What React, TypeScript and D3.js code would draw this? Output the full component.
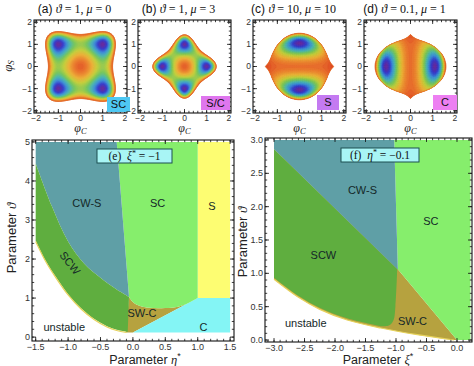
import React from "react";
import * as d3 from "d3";

type P = [number, number];

const SANS = "'Liberation Sans', Arial, sans-serif";
const SERIF = "'Liberation Serif', 'Times New Roman', serif";

// ---------------- top row (potential landscapes) ----------------
const topPanelIds = ["(a)", "(b)", "(c)", "(d)"];
const topTheta = ["1", "1", "10", "0.1"];
const topMu = ["0", "3", "10", "1"];
const topBadges = ["SC", "S/C", "S", "C"];
const topBadgeColors = ["#4ec8f3", "#df76ee", "#c47af1", "#ed7ff2"];
const topTicks = [-2, -1, 0, 1, 2];
const potentialCutoffs = [2.2, 2.2, 1.15, 1.15];
const potentials: ((x: number, y: number) => number)[] = [
  (x, y) => (x * x - 1) ** 2 + (y * y - 1) ** 2,
  (x, y) => {
    const u = x + y, v = x - y;
    return (u * u - 1) ** 2 + (v * v - 1) ** 2;
  },
  (x, y) => {
    const X = x / 1.05, Y = y / 1.05;
    return (Y * Y - 1) ** 2 + 1.0 * X * X * Y * Y + 0.026 * X ** 4;
  },
  (x, y) => {
    const X = x / 1.1, Y = y / 1.1;
    return (X * X - 1) ** 2 + 1.0 * X * X * Y * Y + 0.03 * Y ** 4;
  },
];
// outline of the stable domain for (c), (d): ellipse semi-axes, tip axis angle, tip size and sharpness
const domainShapes: ({ ax: number; by: number; axis: number; spike: number; spikeW: number } | null)[] = [
  null,
  null,
  { ax: 1.3, by: 1.5, axis: 0, spike: 0.25, spikeW: 0.15 },
  { ax: 1.6, by: 1.2, axis: Math.PI / 2, spike: 0.25, spikeW: 0.15 },
];
const heatStops = ["#6a2a9c", "#3a40cc", "#3f8fd8", "#4fb7b0", "#7cc75c", "#c4cf3e", "#ecb23a", "#ea7d2f", "#dc3b22"];

// ---------------- panel (e): xi* = -1 ----------------
const eXTicks = [-1.5, -1, -0.5, 0, 0.5, 1, 1.5];
const eYTicks = [0, 1, 2, 3, 4, 5];
const eUnstableCurve: P[] = [[-1.5, 2.45], [-1.35, 1.95], [-1.2, 1.55], [-1.0, 1.08], [-0.8, 0.72], [-0.6, 0.45], [-0.4, 0.26], [-0.25, 0.17], [-0.1, 0.12]];
const eScwUpper: P[] = [[-1.5, 4.45], [-1.25, 3.35], [-1.0, 2.45], [-0.75, 1.88], [-0.5, 1.52], [-0.25, 1.22], [-0.06, 1.03]];
const eScLower: P[] = [[-0.06, 1.03], [0.0, 0.9], [0.1, 0.8], [0.25, 0.75], [0.5, 0.745], [0.7, 0.78], [0.85, 0.868]];
const eCwsScEdge: P[] = [[-0.25, 5.0], [-0.06, 1.03]];
const eCDiagonal: P[] = [[1.0, 1.0], [0.0, 0.12]];
const eScSBoundary = 1.0;
const eThetaMin = 0.12, eThetaMax = 5.0, eEtaMin = -1.5, eEtaMax = 1.5;
const eLabels: { t: string; p: P; rot?: number }[] = [
  { t: "CW-S", p: [-0.71, 3.43] },
  { t: "SC", p: [0.38, 3.43] },
  { t: "S", p: [1.22, 3.36] },
  { t: "SCW", p: [-0.97, 1.9], rot: 52 },
  { t: "SW-C", p: [0.14, 0.61] },
  { t: "C", p: [1.09, 0.26] },
  { t: "unstable", p: [-1.06, 0.26] },
];

// ---------------- panel (f): eta* = -0.1 ----------------
const fXTicks = [-3, -2.5, -2, -1.5, -1, -0.5, 0];
const fYTicks = [0, 0.5, 1, 1.5, 2, 2.5, 3];
const fUnstableCurve: P[] = [[-3.0, 0.91], [-2.6, 0.64], [-2.25, 0.46], [-1.8, 0.3], [-1.25, 0.18], [-0.65, 0.08], [-0.05, 0.0]];
const fScwUpper: P[] = [[-3.0, 2.86], [-0.98, 1.06]];
const fCwsScEdge: P[] = [[-1.03, 3.0], [-0.97, 1.06]];
const fScEdge: P[] = [[-0.97, 1.06], [0.0, 0.0]];
const fScwRight: P[] = [[-0.98, 1.06], [-1.01, 0.5], [-1.04, 0.3], [-1.1, 0.225], [-1.2, 0.205]];
const fXiMin = -3.0, fXiRight = 0.22, fThetaMax = 3.0;
const fLabels: { t: string; p: P; rot?: number }[] = [
  { t: "CW-S", p: [-1.55, 2.25] },
  { t: "SC", p: [-0.43, 1.79] },
  { t: "SCW", p: [-2.19, 1.27] },
  { t: "SW-C", p: [-0.73, 0.29] },
  { t: "unstable", p: [-2.48, 0.25] },
];

const regionColors = { cws: "#5f9fa6", sc: "#86ee6c", scw: "#5fae3f", swc: "#b6a23f", s: "#fdfd72", c: "#84f5f5" };

// ---------------- layout ----------------
const topLefts = [34, 138, 253, 364];
const topTop = 20;
const topSize = 93;
const badgeBoxes = [[107, 97, 23, 15], [201, 96, 29, 14], [317, 95, 22, 15], [433, 95, 24, 15]];

const heat = d3
  .scaleLinear<string>()
  .domain(heatStops.map((_, i) => i / (heatStops.length - 1)))
  .range(heatStops)
  .interpolate(d3.interpolateRgb)
  .clamp(true);

function Frame(props: {
  xs: d3.ScaleLinear<number, number>;
  ys: d3.ScaleLinear<number, number>;
  xMajor: number[];
  xMinorStep: number;
  yMajor: number[];
  yMinorStep: number;
  fmtX: (v: number) => string;
  fmtY: (v: number) => string;
  fs: number;
  xLabDy: number;
}) {
  const { xs, ys, xMajor, xMinorStep, yMajor, yMinorStep, fmtX, fmtY, fs, xLabDy } = props;
  const [x0, x1] = xs.range();
  const [y0, y1] = ys.range();
  const [dx0, dx1] = xs.domain();
  const [dy0, dy1] = ys.domain();
  const xMinor: number[] = [];
  for (let v = Math.ceil(dx0 / xMinorStep - 1e-9) * xMinorStep; v <= dx1 + 1e-9; v += xMinorStep) xMinor.push(+v.toFixed(6));
  const yMinor: number[] = [];
  for (let v = Math.ceil(dy0 / yMinorStep - 1e-9) * yMinorStep; v <= dy1 + 1e-9; v += yMinorStep) yMinor.push(+v.toFixed(6));
  const M = 4, m = 2.2;
  const segs: string[] = [];
  xMinor.forEach((v) => {
    const X = xs(v);
    segs.push(`M${X},${y0}v${-m}M${X},${y1}v${m}`);
  });
  xMajor.forEach((v) => {
    const X = xs(v);
    segs.push(`M${X},${y0}v${-M}M${X},${y1}v${M}`);
  });
  yMinor.forEach((v) => {
    const Y = ys(v);
    segs.push(`M${x0},${Y}h${m}M${x1},${Y}h${-m}`);
  });
  yMajor.forEach((v) => {
    const Y = ys(v);
    segs.push(`M${x0},${Y}h${M}M${x1},${Y}h${-M}`);
  });
  return (
    <g>
      <rect x={x0} y={y1} width={x1 - x0} height={y0 - y1} fill="none" stroke="#111" strokeWidth={1.1} />
      <path d={segs.join("")} stroke="#111" strokeWidth={0.8} fill="none" />
      {xMajor.map((v) => (
        <text key={"x" + v} x={xs(v)} y={y0 + xLabDy} textAnchor="middle" fontSize={fs} fontFamily={SANS} fill="#333">
          {fmtX(v)}
        </text>
      ))}
      {yMajor.map((v) => (
        <text key={"y" + v} x={x0 - 2} y={ys(v)} dy="0.35em" textAnchor="end" fontSize={fs} fontFamily={SANS} fill="#333">
          {fmtY(v)}
        </text>
      ))}
    </g>
  );
}

function domainRadius(s: NonNullable<(typeof domainShapes)[number]>, phi: number) {
  const c = Math.cos(phi), sn = Math.sin(phi);
  const base = 1 / Math.sqrt((c * c) / (s.ax * s.ax) + (sn * sn) / (s.by * s.by));
  let d = Math.abs(((phi - s.axis) % Math.PI + Math.PI) % Math.PI);
  d = Math.min(d, Math.PI - d);
  return base + s.spike * Math.exp(-d / s.spikeW);
}

function PotentialPanel({ i }: { i: number }) {
  const left = topLefts[i];
  const xs = d3.scaleLinear().domain([-2.1, 2.1]).range([left, left + topSize]);
  const ys = d3.scaleLinear().domain([-2.1, 2.1]).range([topTop + topSize, topTop]);
  const n = 141, lo = -2.1, step = 4.2 / (n - 1);
  const f = potentials[i];
  const c = potentialCutoffs[i];
  const shape = domainShapes[i];
  const values: number[] = new Array(n * n);
  for (let j = 0; j < n; j++)
    for (let k = 0; k < n; k++) {
      const v = f(lo + k * step, lo + j * step);
      values[k + j * n] = -(shape ? Math.min(v, c * 0.999) : v);
    }
  const L = 48, gamma = 0.75;
  const ts = d3.range(1, L + 1).map((k) => k / L);
  const thr = ts.map((t) => -c * Math.pow(t, 1 / gamma));
  const cs = d3.contours().size([n, n]).thresholds(thr)(values);
  const proj = d3.geoTransform({
    point: function (x: number, y: number) {
      (this as any).stream.point(xs(lo + (x - 0.5) * step), ys(lo + (y - 0.5) * step));
    },
  });
  const path = d3.geoPath(proj);
  let outline = path(cs[0] as any) || "";
  if (shape) {
    const pts: P[] = d3.range(0, 720).map((k) => {
      const phi = (k / 720) * 2 * Math.PI;
      const r = domainRadius(shape, phi);
      return [xs(r * Math.cos(phi)), ys(r * Math.sin(phi))];
    });
    outline = (d3.line().curve(d3.curveLinearClosed)(pts) as string) || "";
  }
  const clipId = `dom-${i}`;
  const [bx, by, bw, bh] = badgeBoxes[i];
  const cx = left + topSize / 2;
  return (
    <g>
      {shape && (
        <defs>
          <clipPath id={clipId}>
            <path d={outline} />
          </clipPath>
        </defs>
      )}
      <g clipPath={shape ? `url(#${clipId})` : undefined}>
        {cs.map((ct, k) => {
          const t = Math.pow(-ct.value / c, gamma);
          const col = heat(Math.max(0, t - 0.5 / L));
          return <path key={k} d={path(ct as any) || ""} fill={col} stroke={col} strokeWidth={0.3} />;
        })}
      </g>
      <path d={outline} fill="none" stroke="#e6782e" strokeWidth={1} />
      <Frame
        xs={xs}
        ys={ys}
        xMajor={topTicks}
        xMinorStep={0.2}
        yMajor={topTicks}
        yMinorStep={0.2}
        fmtX={d3.format("d")}
        fmtY={d3.format("d")}
        fs={8.5}
        xLabDy={7.5}
      />
      <rect x={bx} y={by} width={bw} height={bh} fill={topBadgeColors[i]} />
      <text x={bx + bw / 2} y={by + bh / 2} dy="0.36em" textAnchor="middle" fontSize={11} fontFamily={SANS} fill="#111">
        {topBadges[i]}
      </text>
      <text x={cx - 6} y={13} textAnchor="middle" fontSize={12} fill="#111">
        <tspan fontFamily={SANS}>{topPanelIds[i]} </tspan>
        <tspan fontFamily={SERIF} fontStyle="italic">ϑ</tspan>
        <tspan fontFamily={SERIF}> = {topTheta[i]}, </tspan>
        <tspan fontFamily={SERIF} fontStyle="italic">μ</tspan>
        <tspan fontFamily={SERIF}> = {topMu[i]}</tspan>
      </text>
      <text x={cx} y={132} textAnchor="middle" fontSize={12} fontFamily={SERIF} fontStyle="italic" fill="#222">
        φ<tspan fontSize={8.5} dy={2}>C</tspan>
      </text>
    </g>
  );
}

function segPath(pts: P[], curved: boolean, xs: (v: number) => number, ys: (v: number) => number, first: boolean) {
  const g = d3
    .line<P>()
    .x((d) => xs(d[0]))
    .y((d) => ys(d[1]))
    .curve(curved ? d3.curveCatmullRom.alpha(0.5) : d3.curveLinear);
  const s = g(pts) || "";
  return first ? s : "L" + s.slice(1);
}
function poly(segs: { pts: P[]; curved?: boolean }[], xs: (v: number) => number, ys: (v: number) => number) {
  return segs.map((s, i) => segPath(s.pts, !!s.curved, xs, ys, i === 0)).join("") + "Z";
}
const rev = (a: P[]) => a.slice().reverse();

function RegionLabel({ t, x, y, rot }: { t: string; x: number; y: number; rot?: number }) {
  return (
    <text
      x={x}
      y={y}
      dy="0.36em"
      textAnchor="middle"
      fontSize={11}
      fontFamily={SANS}
      fill="#142828"
      transform={rot ? `rotate(${rot},${x},${y})` : undefined}
    >
      {t}
    </text>
  );
}

function PanelE() {
  const xs = d3.scaleLinear().domain([-1.557, 1.56]).range([32, 234]);
  const ys = d3.scaleLinear().domain([-0.1, 5.05]).range([341, 140]);
  const X = (v: number) => xs(v), Y = (v: number) => ys(v);
  const cws = poly([{ pts: [[eEtaMin, eThetaMax], eCwsScEdge[0], eCwsScEdge[1]] }, { pts: rev(eScwUpper), curved: true }], X, Y);
  const cornerC = eScLower[eScLower.length - 1];
  const sc = poly(
    [
      { pts: [eCwsScEdge[0], [eScSBoundary, eThetaMax], [eScSBoundary, 1.0], cornerC] },
      { pts: rev(eScLower), curved: true },
      { pts: [eCwsScEdge[1], eCwsScEdge[0]] },
    ],
    X,
    Y
  );
  const s = poly([{ pts: [[eScSBoundary, eThetaMax], [eEtaMax, eThetaMax], [eEtaMax, 1.0], [eScSBoundary, 1.0]] }], X, Y);
  const c = poly([{ pts: [eCDiagonal[0], [eEtaMax, 1.0], [eEtaMax, eThetaMin], eCDiagonal[1]] }], X, Y);
  const swc = poly([{ pts: eScLower, curved: true }, { pts: [cornerC, eCDiagonal[1], [-0.11, eThetaMin]] }], X, Y);
  const scwBottom: P[] = eUnstableCurve.map(([a, b]) => [a, b + 0.02] as P);
  const scw = poly(
    [
      { pts: [[eEtaMin, eUnstableCurve[0][1]], eScwUpper[0]] },
      { pts: eScwUpper, curved: true },
      { pts: [eScwUpper[eScwUpper.length - 1], [-0.08, 0.14]] },
      { pts: rev(scwBottom), curved: true },
    ],
    X,
    Y
  );
  const unstableLine = segPath(eUnstableCurve, true, X, Y, true);
  return (
    <g>
      <path d={swc} fill={regionColors.swc} />
      <path d={c} fill={regionColors.c} />
      <path d={s} fill={regionColors.s} />
      <path d={sc} fill={regionColors.sc} />
      <path d={cws} fill={regionColors.cws} />
      <path d={scw} fill={regionColors.scw} />
      <path d={unstableLine} fill="none" stroke="#e6d25c" strokeWidth={1.2} />
      {eLabels.map((l) => (
        <RegionLabel key={l.t} t={l.t} x={xs(l.p[0])} y={ys(l.p[1])} rot={l.rot} />
      ))}
      <rect x={97} y={149} width={75} height={14} fill="#a8f5f5" stroke="#1d4f50" strokeWidth={1} />
      <text x={134.5} y={156} dy="0.36em" textAnchor="middle" fontSize={11.5} fontFamily={SERIF} fill="#111">
        (e){"\u2002"}<tspan fontStyle="italic">ξ</tspan>
        <tspan fontSize={8} dy={-4}>*</tspan>
        <tspan dy={4}> = −1</tspan>
      </text>
      <Frame
        xs={xs}
        ys={ys}
        xMajor={eXTicks}
        xMinorStep={0.1}
        yMajor={eYTicks}
        yMinorStep={0.2}
        fmtX={d3.format(".1f")}
        fmtY={d3.format("d")}
        fs={9}
        xLabDy={8.5}
      />
      <text x={145} y={364} textAnchor="middle" fontSize={12.5} fontFamily={SANS} fill="#222">
        Parameter <tspan fontFamily={SERIF} fontStyle="italic">η</tspan>
        <tspan fontSize={9} dy={-5}>*</tspan>
      </text>
      <text x={16} y={238} textAnchor="middle" fontSize={13} fontFamily={SANS} fill="#222" transform="rotate(-90,16,238)">
        Parameter <tspan fontFamily={SERIF} fontStyle="italic">ϑ</tspan>
      </text>
    </g>
  );
}

function PanelF() {
  const xs = d3.scaleLinear().domain([-3.148, 0.246]).range([265, 472]);
  const ys = d3.scaleLinear().domain([-0.03, 3.03]).range([342, 138]);
  const X = (v: number) => xs(v), Y = (v: number) => ys(v);
  const swc = poly(
    [
      { pts: fUnstableCurve, curved: true },
      { pts: [fUnstableCurve[fUnstableCurve.length - 1], fScEdge[1], fScEdge[0], fScwUpper[0]] },
    ],
    X,
    Y
  );
  const cws = poly([{ pts: [[fXiMin, fThetaMax], fCwsScEdge[0], fCwsScEdge[1], fScwUpper[1], fScwUpper[0]] }], X, Y);
  const sc = poly([{ pts: [fCwsScEdge[0], [fXiRight, fThetaMax], [fXiRight, 0], fScEdge[1], fScEdge[0]] }], X, Y);
  const scwBottom: P[] = fUnstableCurve.filter((d) => d[0] <= -1.25).map(([a, b]) => [a, b + 0.025] as P);
  const scw = poly(
    [
      { pts: [[fXiMin, scwBottom[0][1]], fScwUpper[0], fScwUpper[1]] },
      { pts: fScwRight, curved: true },
      { pts: [fScwRight[fScwRight.length - 1], scwBottom[scwBottom.length - 1]] },
      { pts: rev(scwBottom), curved: true },
    ],
    X,
    Y
  );
  const unstableLine = segPath(fUnstableCurve, true, X, Y, true);
  return (
    <g>
      <path d={swc} fill={regionColors.swc} />
      <path d={sc} fill={regionColors.sc} />
      <path d={cws} fill={regionColors.cws} />
      <path d={scw} fill={regionColors.scw} />
      <path d={unstableLine} fill="none" stroke="#e6d25c" strokeWidth={1.2} />
      {fLabels.map((l) => (
        <RegionLabel key={l.t} t={l.t} x={xs(l.p[0])} y={ys(l.p[1])} rot={l.rot} />
      ))}
      <rect x={341} y={148} width={78} height={14} fill="#a8f5f5" stroke="#1d4f50" strokeWidth={1} />
      <text x={380} y={155} dy="0.36em" textAnchor="middle" fontSize={11.5} fontFamily={SERIF} fill="#111">
        (f){"\u2002"}<tspan fontStyle="italic">η</tspan>
        <tspan fontSize={8} dy={-4}>*</tspan>
        <tspan dy={4}> = −0.1</tspan>
      </text>
      <Frame
        xs={xs}
        ys={ys}
        xMajor={fXTicks}
        xMinorStep={0.1}
        yMajor={fYTicks}
        yMinorStep={0.1}
        fmtX={d3.format(".1f")}
        fmtY={d3.format(".1f")}
        fs={9}
        xLabDy={8.5}
      />
      <text x={378} y={364} textAnchor="middle" fontSize={12.5} fontFamily={SANS} fill="#222">
        Parameter <tspan fontFamily={SERIF} fontStyle="italic">ξ</tspan>
        <tspan fontSize={9} dy={-5}>*</tspan>
      </text>
      <text x={247} y={242} textAnchor="middle" fontSize={13} fontFamily={SANS} fill="#222" transform="rotate(-90,247,242)">
        Parameter <tspan fontFamily={SERIF} fontStyle="italic">ϑ</tspan>
      </text>
    </g>
  );
}

export default function App() {
  return (
    <svg
      width={474}
      height={366}
      viewBox="0 0 474 366"
      style={{ position: "absolute", left: 0, top: 0, display: "block", background: "#fff" }}
    >
      <rect width={474} height={366} fill="#fff" />
      {[0, 1, 2, 3].map((i) => (
        <PotentialPanel key={i} i={i} />
      ))}
      <text x={12} y={66} textAnchor="middle" fontSize={13} fontFamily={SERIF} fontStyle="italic" fill="#222" transform="rotate(-90,12,66)">
        φ<tspan fontSize={9} dy={2}>S</tspan>
      </text>
      <PanelE />
      <PanelF />
    </svg>
  );
}
